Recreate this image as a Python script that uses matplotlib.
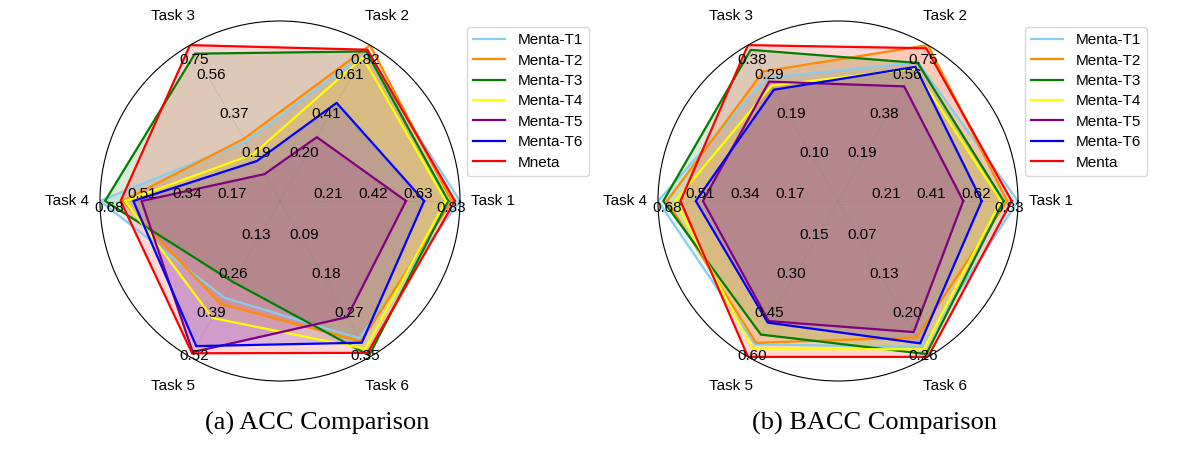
import numpy as np
import matplotlib
matplotlib.use("Agg")
import matplotlib.pyplot as plt

plt.rcParams['font.family'] = ['Liberation Sans', 'DejaVu Sans']

tasks = ["Task 1", "Task 2", "Task 3", "Task 4", "Task 5", "Task 6"]
colors = ["skyblue", "darkorange", "green", "yellow", "purple", "blue", "red"]

acc_names = ["Menta-T1", "Menta-T2", "Menta-T3", "Menta-T4", "Menta-T5", "Menta-T6", "Mneta"]
bacc_names = ["Menta-T1", "Menta-T2", "Menta-T3", "Menta-T4", "Menta-T5", "Menta-T6", "Menta"]

# outer value of each task axis
acc_max = [0.8344, 0.8182, 0.748, 0.681, 0.521, 0.3542]
bacc_max = [0.828, 0.752, 0.3826, 0.681, 0.601, 0.2628]

# ACC per model, Task 1..6
acc_t1 = [0.834, 0.777, 0.284, 0.681, 0.323, 0.312]
acc_t2 = [0.796, 0.818, 0.299, 0.595, 0.344, 0.319]
acc_t3 = [0.780, 0.785, 0.707, 0.662, 0.271, 0.351]
acc_t4 = [0.768, 0.753, 0.224, 0.586, 0.391, 0.336]
acc_t5 = [0.584, 0.335, 0.129, 0.524, 0.505, 0.264]
acc_t6 = [0.668, 0.515, 0.192, 0.555, 0.485, 0.322]
acc_menta = [0.811, 0.794, 0.748, 0.603, 0.509, 0.345]

# BACC per model, Task 1..6
bacc_t1 = [0.828, 0.669, 0.302, 0.681, 0.553, 0.246]
bacc_t2 = [0.778, 0.752, 0.318, 0.647, 0.547, 0.230]
bacc_t3 = [0.762, 0.666, 0.371, 0.661, 0.515, 0.258]
bacc_t4 = [0.749, 0.639, 0.283, 0.616, 0.571, 0.250]
bacc_t5 = [0.576, 0.553, 0.293, 0.511, 0.463, 0.221]
bacc_t6 = [0.661, 0.647, 0.273, 0.538, 0.469, 0.240]
bacc_menta = [0.799, 0.737, 0.3826, 0.596, 0.601, 0.2628]

W, H = 1195, 469


def radar(fig, left_px, names, series, maxes, title, title_x):
    rect = [left_px / W, 1 - 381 / H, 360 / W, 360 / H]
    ax = fig.add_axes(rect, polar=True)
    angles = np.linspace(0, 2 * np.pi, len(tasks), endpoint=False)
    closed = np.concatenate([angles, angles[:1]])
    for name, vals, c in zip(names, series, colors):
        r = np.array(vals) / np.array(maxes)
        r = np.concatenate([r, r[:1]])
        ax.plot(closed, r, color=c, lw=1.6, label=name)
        ax.fill(closed, r, color=c, alpha=0.15)
    ax.set_ylim(0, 1)
    ax.set_yticks([])
    ax.set_xticks(angles)
    ax.set_xticklabels([])
    ax.grid(True, axis='x', color='gray', ls=':', lw=0.6, alpha=0.6)
    ax.spines['polar'].set_color('black')
    ax.spines['polar'].set_linewidth(0.8)

    for i, a in enumerate(angles):
        ax.text(a, 1.185, tasks[i], ha='center', va='center', fontsize=11)
        for k in range(1, 5):
            lab = f"{maxes[i] * k / 4:.2f}"
            if k < 4:
                ax.text(a, k / 4 + 0.015, lab, ha='center', va='bottom', fontsize=11, zorder=10)
            else:
                ax.text(a, 0.95, lab, ha='center', va='top', fontsize=11, zorder=10)

    ax.legend(loc='upper left', bbox_to_anchor=((left_px + 367) / W, 1 - 27 / H),
              bbox_transform=fig.transFigure, borderaxespad=0, fontsize=11,
              handlelength=2.1, labelspacing=0.42)
    fig.text(title_x / W, 1 - 423 / H, title, ha='center', va='center',
             fontsize=19, family='Liberation Serif')
    return ax


fig = plt.figure(figsize=(W / 100, H / 100), dpi=100)
radar(fig, 100, acc_names,
      [acc_t1, acc_t2, acc_t3, acc_t4, acc_t5, acc_t6, acc_menta],
      acc_max, "(a) ACC Comparison", 317)
radar(fig, 658, bacc_names,
      [bacc_t1, bacc_t2, bacc_t3, bacc_t4, bacc_t5, bacc_t6, bacc_menta],
      bacc_max, "(b) BACC Comparison", 875)
fig.savefig("out.png", dpi=100)
